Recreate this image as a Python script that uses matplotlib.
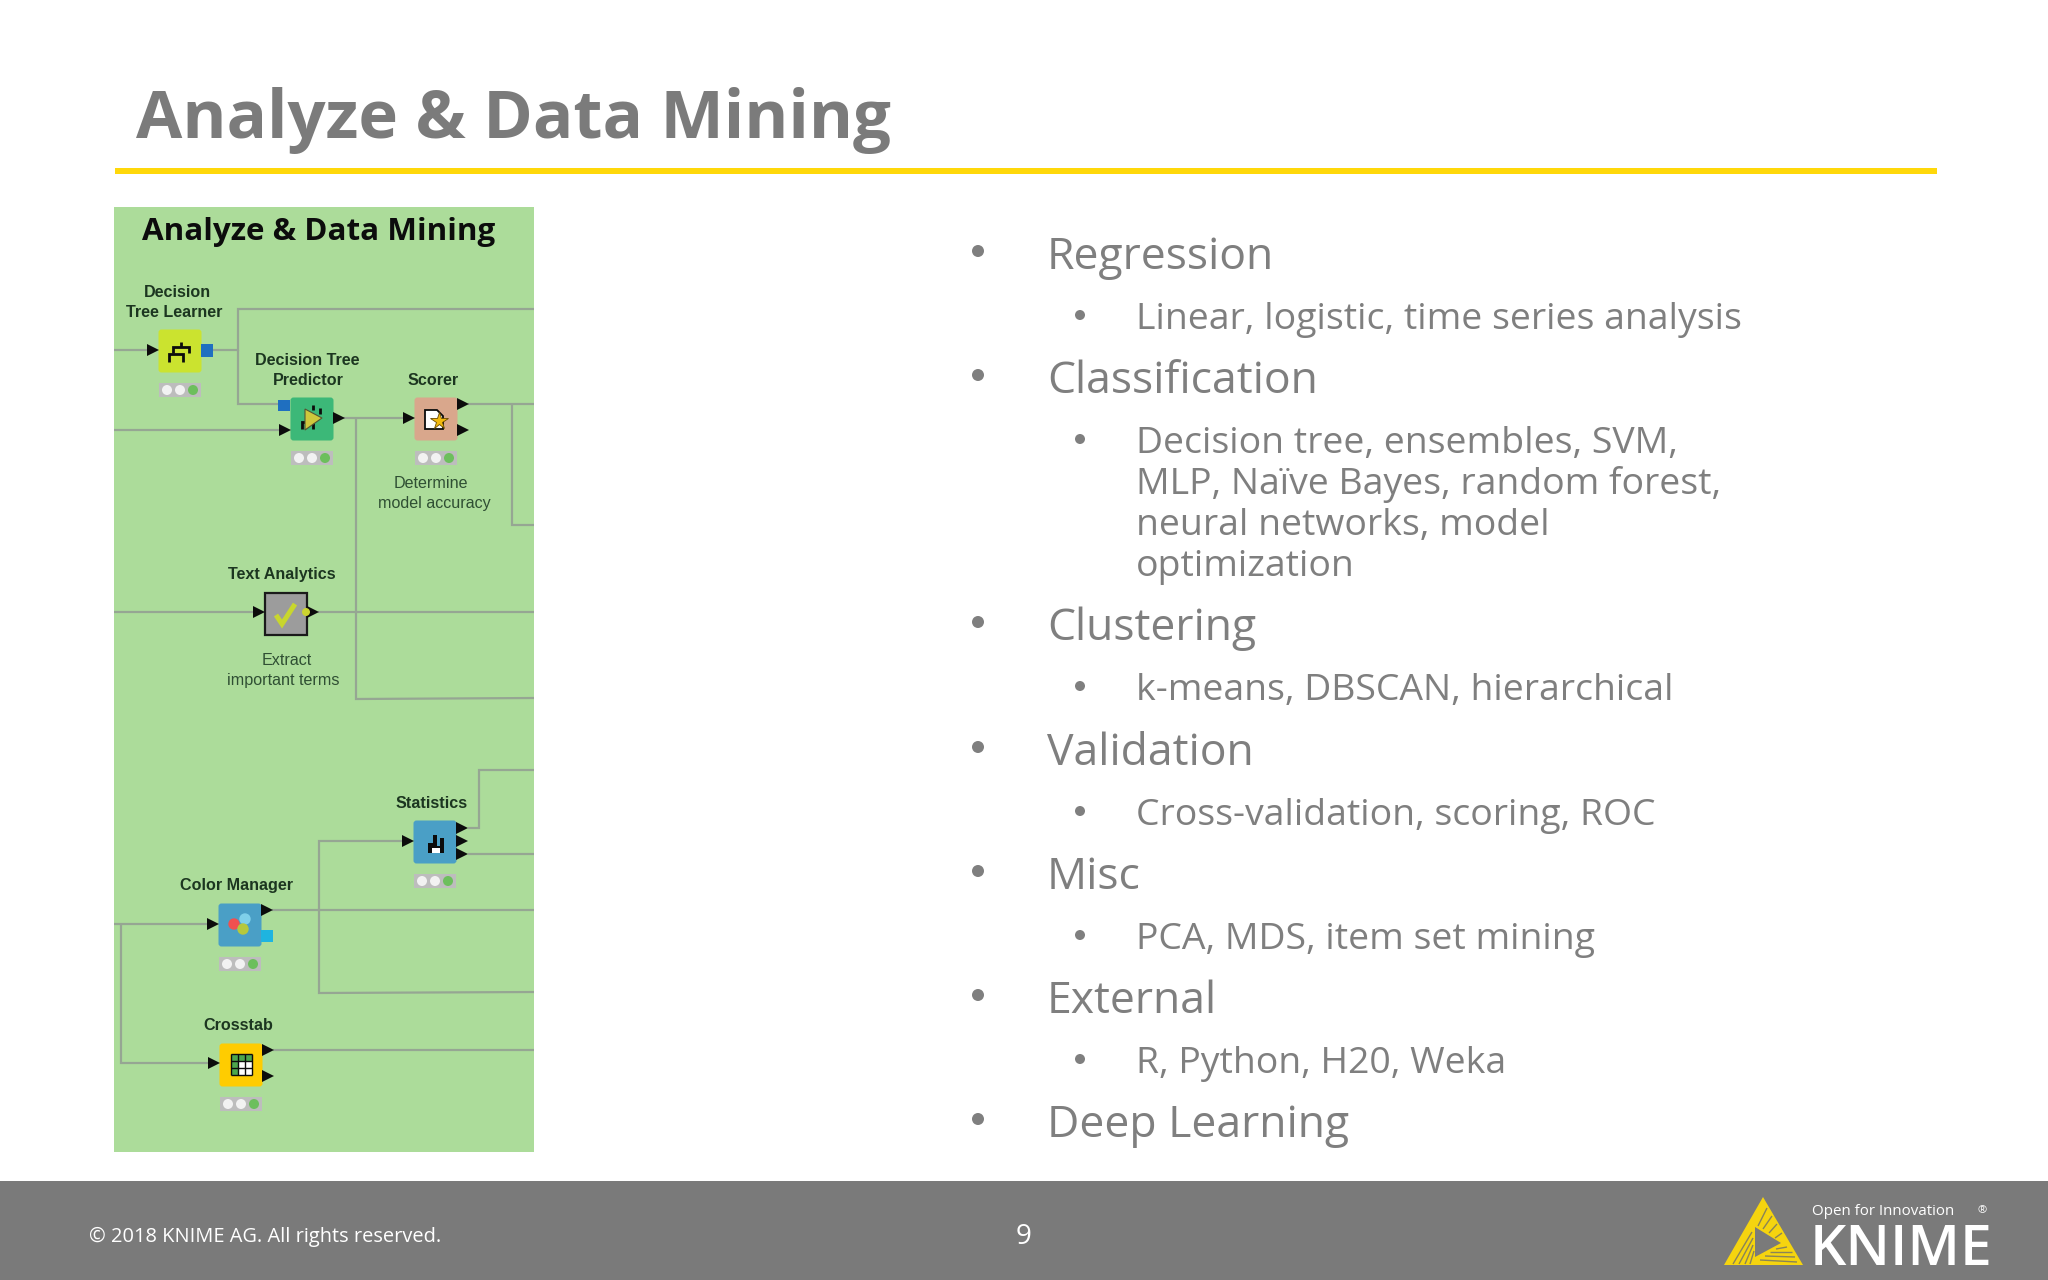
import matplotlib
matplotlib.use('Agg')
import matplotlib.pyplot as plt
from matplotlib.patches import Rectangle, FancyBboxPatch, Polygon, Circle

title = 'Analyze & Data Mining'
footer = '© 2018 KNIME AG. All rights reserved.'
page_number = '9'
tagline = 'Open for Innovation'
brand = 'KNIME'

# (level, text, baseline)
outline = [
    (0, 'Regression', 269),
    (1, 'Linear, logistic, time series analysis', 329),
    (0, 'Classification', 393),
    (1, 'Decision tree, ensembles, SVM,', 453),
    (2, 'MLP, Naïve Bayes, random forest,', 494),
    (2, 'neural networks, model', 535),
    (2, 'optimization', 576),
    (0, 'Clustering', 640),
    (1, 'k-means, DBSCAN, hierarchical', 700),
    (0, 'Validation', 765),
    (1, 'Cross-validation, scoring, ROC', 825),
    (0, 'Misc', 889),
    (1, 'PCA, MDS, item set mining', 949),
    (0, 'External', 1013),
    (1, 'R, Python, H20, Weka', 1073),
    (0, 'Deep Learning', 1137),
]

# workflow wires as polylines, picture pixels
wires = [
    [(114, 350), (147, 350)],
    [(213, 350), (238, 350), (238, 309), (534, 309)],
    [(238, 350), (238, 404), (280, 404)],
    [(114, 430), (280, 430)],
    [(343, 418), (404, 418)],
    [(356, 418), (356, 699), (534, 698)],
    [(468, 404), (534, 404)],
    [(512, 404), (512, 525), (534, 525)],
    [(114, 612), (255, 612)],
    [(318, 612), (534, 612)],
    [(468, 828), (479, 828), (479, 770), (534, 770)],
    [(468, 854), (534, 854)],
    [(404, 841), (319, 841), (319, 993), (534, 992)],
    [(272, 910), (534, 910)],
    [(114, 924), (209, 924)],
    [(121, 924), (121, 1063), (210, 1063)],
    [(273, 1050), (534, 1050)],
]

node_names = ['learner', 'predictor', 'scorer', 'text', 'statistics', 'color', 'crosstab']
node_x = [180, 312, 436, 286, 435, 240, 241]
node_y = [351, 419, 419, 614, 842, 925, 1065]
node_colors = ['#cbe32f', '#3cb878', '#d9a78c', '#9c9c9c', '#4a9fc6', '#4a9fc6', '#ffcc00']
# input arrow y, output arrow y
node_inputs = [[350], [430], [418], [612], [841], [924], [1063]]
node_outputs = [[], [418], [404, 430], [612], [828, 841, 854], [910], [1050, 1076]]

# (text, centre x, baseline, bold)
node_labels = [
    ('Decision', 177, 297, True),
    ('Tree Learner', 174, 317, True),
    ('Decision Tree', 307, 365, True),
    ('Predictor', 308, 385, True),
    ('Scorer', 433, 385, True),
    ('Determine', 431, 488, False),
    ('model accuracy', 434, 508, False),
    ('Text Analytics', 282, 579, True),
    ('Extract', 287, 665, False),
    ('important terms', 283, 685, False),
    ('Statistics', 432, 808, True),
    ('Color Manager', 236, 890, True),
    ('Crosstab', 238, 1030, True),
]

GREY = '#7f7f7f'
WIRE = '#96a693'
BLACK = '#0c0c0c'

fig = plt.figure(figsize=(20.48, 12.8), dpi=100, facecolor='white')
ax = fig.add_axes([0, 0, 1, 1])
ax.set_xlim(0, 2048)
ax.set_ylim(1280, 0)
ax.axis('off')


def px_rect(x0, y0, x1, y1, color, z=2, **kw):
    ax.add_patch(Rectangle((x0, y0), x1 - x0, y1 - y0, fc=color, ec='none', zorder=z, **kw))


def arrow(x, y):
    ax.add_patch(Polygon([(x, y - 6), (x + 12, y), (x, y + 6)], fc=BLACK, ec='none', zorder=5))


def poly(points, lw=2, color=BLACK, z=6):
    xs, ys = zip(*points)
    ax.plot(xs, ys, color=color, lw=lw, zorder=z, solid_capstyle='butt', solid_joinstyle='miter')


# slide frame
ax.text(136, 138, title, fontsize=48.3, family='Open Sans', weight='bold', color='#7b7b7b', va='baseline')
px_rect(115, 168, 1937, 174, '#ffd80a')
px_rect(0, 1181, 2048, 1280, '#7a7a7a')
ax.text(89, 1242, footer, fontsize=14.4, family='Open Sans', color='white', va='baseline')
ax.text(1024, 1244, page_number, fontsize=20, family='Open Sans', color='white', va='baseline', ha='center')

# outline text
for level, line, base in outline:
    if level == 0:
        ax.text(1047, base, line, fontsize=32, family='Open Sans', color=GREY, va='baseline')
        ax.add_patch(Circle((978, base - 18), 6, fc=GREY, ec='none'))
    else:
        ax.text(1136, base, line, fontsize=26.9, family='Open Sans', color=GREY, va='baseline')
        if level == 1:
            ax.add_patch(Circle((1080, base - 14), 5, fc=GREY, ec='none'))

# workflow panel
px_rect(114, 207, 534, 1152, '#acdc9a', z=1)
ax.text(319, 240, title, fontsize=22.6, family='Open Sans', weight='bold', color=BLACK, va='baseline', ha='center')

for pts in wires:
    poly(pts, lw=1.6, color=WIRE, z=2)

for name, cx, cy, col, ins, outs in zip(node_names, node_x, node_y, node_colors, node_inputs, node_outputs):
    if name == 'text':
        ax.add_patch(Rectangle((cx - 21, cy - 21), 42, 42, fc=col, ec='#1a1a1a', lw=1.6, zorder=4))
    else:
        ax.add_patch(FancyBboxPatch((cx - 19, cy - 19), 38, 38, boxstyle='round,pad=2.5,rounding_size=3',
                                    fc=col, ec='none', zorder=4))
    for y in ins:
        arrow(cx - 33, y)
    for y in outs:
        arrow(cx + 21, y)
    if name != 'text':
        px_rect(cx - 21, cy + 32, cx + 21, cy + 46, '#bdbdbd', z=3)
        for dx, c in zip([-13, 0, 13], ['#f2f2f2', '#f2f2f2', '#6cbf5c']):
            ax.add_patch(Circle((cx + dx, cy + 39), 5, fc=c, ec='none', zorder=4))

# ports with a square shape
px_rect(201, 344, 213, 357, '#1f6fc0', z=5)
px_rect(278, 400, 290, 411, '#1f6fc0', z=5)
px_rect(261, 930, 273, 942, '#1eb4e0', z=5)
ax.add_patch(Circle((306, 612), 4, fc='#cbd42f', ec='none', zorder=6))

# node icons
poly([(181, 342), (181, 347)])
poly([(173, 353), (173, 347), (189, 347), (189, 353)])
poly([(169, 362), (169, 354), (183, 354), (183, 362)])
poly([(302, 429), (302, 422), (313, 422), (313, 429)])
poly([(313, 410), (313, 405)])
poly([(320, 414), (320, 408)])
ax.add_patch(Polygon([(305, 409), (322, 418), (305, 430)], fc='#cfc83c', ec='#555533', lw=0.8, zorder=7))
ax.add_patch(Polygon([(425, 410), (437, 410), (443, 416), (443, 429), (425, 429)], fc='white', ec=BLACK, lw=1.3, zorder=6))
ax.plot([439], [421], marker='*', ms=13, mfc='#f2b90f', mec='#6b4b00', mew=0.6, zorder=7)
poly([(276, 615), (282, 624), (295, 604)], lw=3.6, color='#c8d62e')
px_rect(428, 843, 436, 853, BLACK, z=6)
px_rect(433, 835, 437, 853, BLACK, z=6)
px_rect(440, 838, 444, 853, BLACK, z=6)
px_rect(436, 846, 444, 849, BLACK, z=6)
px_rect(432, 848, 440, 853, 'white', z=7)
ax.add_patch(Circle((234, 924), 5.7, fc='#f05050', ec='none', zorder=6))
ax.add_patch(Circle((245, 919), 5.7, fc='#7fd0ea', ec='none', zorder=6))
ax.add_patch(Circle((243, 929), 5.7, fc='#b5c83c', ec='none', zorder=7))
px_rect(231, 1054, 252, 1075, '#4da64d', z=5)
px_rect(238, 1061, 252, 1075, 'white', z=6)
for off in [0, 7, 14, 21]:
    poly([(231 + off, 1054), (231 + off, 1075)], lw=1, z=7)
    poly([(231, 1054 + off), (252, 1054 + off)], lw=1, z=7)

for text, x, base, bold in node_labels:
    ax.text(x, base, text, fontsize=11.6, family='Liberation Sans', weight='bold' if bold else 'normal',
            color='#1c3620' if bold else '#2f4f33', va='baseline', ha='center')

# logo
ax.add_patch(Polygon([(1763, 1197), (1724, 1265), (1803, 1265)], fc='#f5d40f', ec='none', zorder=3))
ax.add_patch(Polygon([(1755, 1227), (1781, 1243), (1755, 1257)], fc='#7a7a7a', ec='none', zorder=4))
logo_fans = [
    ((1733, 1264), (1752, 1232)), ((1739, 1264), (1753, 1238)), ((1745, 1264), (1753, 1245)), ((1750, 1264), (1754, 1251)),
    ((1767, 1208), (1758, 1226)), ((1772, 1216), (1763, 1229)), ((1777, 1224), (1769, 1233)), ((1782, 1233), (1775, 1238)),
    ((1797, 1262), (1760, 1260)), ((1795, 1257), (1765, 1256)), ((1792, 1252), (1770, 1252)), ((1787, 1247), (1776, 1249)),
]
for a, b in logo_fans:
    poly([a, b], lw=1, color='#8a8458', z=5)
ax.text(1812, 1215, tagline, fontsize=10.9, family='Open Sans', color='white', va='baseline')
ax.text(1978, 1213, '®', fontsize=8, family='Open Sans', color='white', va='baseline')
ax.text(1810, 1265, brand, fontsize=41, family='Open Sans', weight='semibold', color='white', va='baseline')

fig.savefig('out.png', dpi=100)
